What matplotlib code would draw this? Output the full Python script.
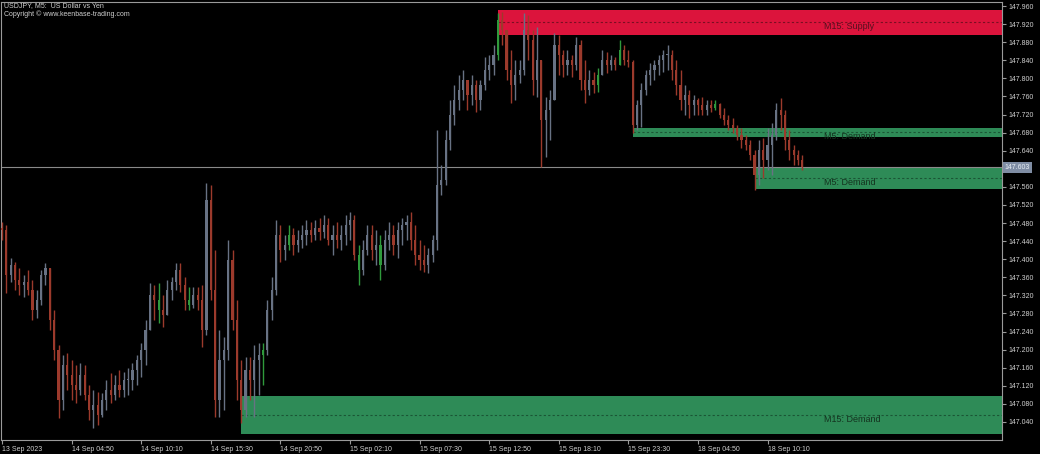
import matplotlib
matplotlib.use("Agg")
import matplotlib.pyplot as plt
import numpy as np

# ---------------- data (USDJPY M5, one candle = 20 min) ----------------
highs = [147.483,147.476,147.403,147.394,147.381,147.365,147.376,147.354,147.332,147.376,
         147.392,147.381,147.288,147.210,147.188,147.193,147.177,147.166,147.170,147.166,
         147.122,147.111,147.106,147.104,147.133,147.148,147.144,147.155,147.150,147.159,
         147.170,147.188,147.215,147.266,147.347,147.343,147.347,147.321,147.354,147.361,
         147.392,147.392,147.361,147.339,147.339,147.339,147.343,147.569,147.564,147.421,
         147.243,147.228,147.443,147.421,147.310,147.177,147.184,147.184,147.210,147.215,
         147.215,147.310,147.361,147.487,147.476,147.454,147.476,147.469,147.465,147.476,
         147.487,147.483,147.487,147.491,147.498,147.491,147.476,147.483,147.476,147.498,
         147.505,147.498,147.432,147.443,147.476,147.476,147.465,147.454,147.465,147.483,
         147.476,147.483,147.491,147.498,147.505,147.476,147.443,147.432,147.425,147.454,
         147.686,147.609,147.686,147.753,147.786,147.808,147.819,147.797,147.808,147.797,
         147.797,147.848,147.852,147.874,147.945,147.947,147.908,147.863,147.841,147.841,
         147.945,147.941,147.908,147.914,147.841,147.759,147.775,147.901,147.897,147.863,
         147.863,147.852,147.892,147.885,147.841,147.819,147.815,147.823,147.863,147.859,
         147.852,147.848,147.885,147.874,147.863,147.841,147.753,147.790,147.819,147.835,
         147.841,147.852,147.863,147.874,147.863,147.841,147.819,147.786,147.775,147.764,
         147.757,147.759,147.753,147.753,147.753,147.746,147.735,147.719,147.713,147.697,
         147.691,147.675,147.664,147.642,147.664,147.668,147.691,147.702,147.746,147.757,
         147.730,147.686,147.653,147.642,147.631]
lows = [147.443,147.325,147.350,147.332,147.321,147.316,147.321,147.266,147.270,147.299,
        147.343,147.243,147.177,147.049,147.066,147.111,147.088,147.082,147.099,147.088,
        147.044,147.026,147.033,147.051,147.066,147.082,147.088,147.095,147.095,147.099,
        147.111,147.122,147.139,147.166,147.243,147.266,147.259,147.250,147.299,147.310,
        147.332,147.327,147.288,147.288,147.292,147.288,147.206,147.232,147.310,147.051,
        147.051,147.066,147.177,147.243,147.088,147.038,147.051,147.088,147.051,147.099,
        147.122,147.188,147.266,147.321,147.394,147.398,147.421,147.409,147.416,147.425,
        147.432,147.438,147.443,147.443,147.447,147.432,147.409,147.425,147.421,147.432,
        147.443,147.398,147.343,147.365,147.409,147.398,147.387,147.354,147.376,147.421,
        147.409,147.403,147.432,147.443,147.421,147.387,147.376,147.372,147.370,147.394,
        147.421,147.542,147.564,147.642,147.697,147.730,147.753,147.730,147.741,147.726,
        147.730,147.775,147.797,147.808,147.841,147.874,147.797,147.746,147.753,147.790,
        147.808,147.841,147.764,147.759,147.604,147.626,147.664,147.753,147.808,147.804,
        147.808,147.804,147.819,147.775,147.746,147.764,147.768,147.770,147.808,147.812,
        147.819,147.819,147.830,147.830,147.826,147.680,147.686,147.693,147.764,147.786,
        147.797,147.808,147.815,147.819,147.797,147.764,147.730,147.719,147.713,147.719,
        147.719,147.719,147.719,147.726,147.730,147.713,147.697,147.686,147.680,147.664,
        147.646,147.642,147.620,147.553,147.564,147.580,147.598,147.587,147.664,147.686,
        147.642,147.620,147.609,147.609,147.598]
closes = [147.465,147.365,147.387,147.354,147.343,147.350,147.332,147.288,147.310,147.365,
          147.381,147.266,147.199,147.088,147.166,147.144,147.122,147.111,147.144,147.099,
          147.066,147.077,147.055,147.088,147.111,147.099,147.122,147.111,147.133,147.133,
          147.155,147.177,147.199,147.243,147.321,147.310,147.288,147.277,147.332,147.350,
          147.376,147.343,147.310,147.299,147.321,147.310,147.243,147.531,147.332,147.088,
          147.177,147.199,147.398,147.266,147.133,147.066,147.155,147.133,147.177,147.188,
          147.199,147.288,147.332,147.454,147.421,147.432,147.454,147.432,147.443,147.454,
          147.465,147.454,147.469,147.460,147.476,147.443,147.454,147.443,147.454,147.476,
          147.487,147.409,147.376,147.421,147.454,147.421,147.432,147.387,147.443,147.454,
          147.432,147.465,147.476,147.483,147.443,147.409,147.398,147.387,147.409,147.443,
          147.564,147.575,147.664,147.719,147.753,147.775,147.797,147.764,147.786,147.753,
          147.786,147.819,147.830,147.852,147.930,147.908,147.819,147.786,147.808,147.819,
          147.908,147.885,147.797,147.841,147.708,147.730,147.753,147.874,147.852,147.830,
          147.841,147.830,147.874,147.797,147.775,147.797,147.786,147.808,147.841,147.830,
          147.841,147.830,147.863,147.841,147.837,147.697,147.741,147.775,147.808,147.819,
          147.830,147.841,147.852,147.852,147.819,147.786,147.753,147.764,147.741,147.753,
          147.741,147.730,147.741,147.735,147.744,147.719,147.708,147.697,147.691,147.675,
          147.664,147.653,147.631,147.587,147.642,147.620,147.653,147.675,147.730,147.719,
          147.664,147.642,147.631,147.620,147.603]
first_open = 147.470
doji_idx = [36, 43, 60, 66, 82, 87, 114, 137, 142, 164]

tick_idx = [0, 16, 32, 48, 64, 80, 96, 112, 128, 144, 160, 176]
tick_labels = ["13 Sep 2023", "14 Sep 04:50", "14 Sep 10:10", "14 Sep 15:30",
               "14 Sep 20:50", "15 Sep 02:10", "15 Sep 07:30", "15 Sep 12:50",
               "15 Sep 18:10", "15 Sep 23:30", "18 Sep 04:50", "18 Sep 10:10"]

# zones: (label, start candle, top, bottom, kind)
zone_labels = ["M15: Supply", "M5: Demand", "M5: Demand", "M15: Demand"]
zone_start = [114, 145, 173, 55]
zone_top = [147.952, 147.690, 147.604, 147.097]
zone_bottom = [147.897, 147.671, 147.555, 147.013]
zone_kind = ["supply", "demand", "demand", "demand"]

bid = 147.603
price_ticks = [round(147.040 + 0.04 * k, 3) for k in range(24)]

# ---------------- drawing ----------------
BG = "#000000"
BULL = "#687284"
BEAR = "#9C3A2C"
DOJI = "#2F9A3C"
FG = "#D0D0D0"
FRAME = "#9A9A9A"

fig = plt.figure(figsize=(10.4, 4.54), dpi=100, facecolor=BG)
ax = fig.add_axes([1 / 1040, 14 / 454, 1001 / 1040, 438 / 454], facecolor=BG)

n = len(closes)
x = np.arange(n)
opens = np.array([first_open] + closes[:-1])
c = np.array(closes)
h = np.maximum(np.array(highs), np.maximum(opens, c))
l = np.minimum(np.array(lows), np.minimum(opens, c))

colors = []
for i in range(n):
    if i in doji_idx:
        colors.append(DOJI)
    elif c[i] >= opens[i]:
        colors.append(BULL)
    else:
        colors.append(BEAR)

ax.vlines(x, l, h, colors=colors, linewidth=1.0, zorder=3)
body_bot = np.minimum(opens, c)
body_h = np.maximum(np.abs(c - opens), 0.002)
ax.bar(x, body_h, bottom=body_bot, width=0.5, color=colors, linewidth=0, zorder=3)

xmax = 229.9
for lab, s, t, b, k in zip(zone_labels, zone_start, zone_top, zone_bottom, zone_kind):
    fc = "#DC143C" if k == "supply" else "#2E8B57"
    lc = "#7A0F22" if k == "supply" else "#1B5535"
    tc = "#55101F" if k == "supply" else "#14331F"
    ax.fill_between([s, xmax], b, t, color=fc, linewidth=0, zorder=1)
    mid = (t + b) / 2
    ax.plot([s, xmax], [mid, mid], color=lc, linewidth=0.8,
            linestyle=(0, (2, 2)), zorder=2)
    ax.text(189.0, mid - 0.010, lab, color=tc, fontsize=6.5,
            family="Liberation Sans", va="center", ha="left", zorder=2)

ax.axhline(bid, color="#8A8A8A", linewidth=0.8, zorder=2)

ax.set_xlim(-0.23, xmax)
ax.set_ylim(147.000, 147.969)

for sp in ax.spines.values():
    sp.set_color(FRAME)
    sp.set_linewidth(0.8)

ax.yaxis.tick_right()
yt = [p for p in price_ticks if abs(p - 147.600) > 1e-6]
ax.set_yticks(yt)
ax.set_yticklabels([f"{p:.3f}" for p in yt])
ax.set_xticks(tick_idx)
ax.set_xticklabels(tick_labels, ha="left")
ax.tick_params(axis="both", colors=FRAME, labelcolor=FG, length=3, width=0.8,
               labelsize=5, pad=1.5)
for t in ax.get_xticklabels() + ax.get_yticklabels():
    t.set_family("Liberation Sans")

ax.annotate(f"{bid:.3f}", xy=(1.0, bid), xycoords=("axes fraction", "data"),
            xytext=(2, 0), textcoords="offset points", va="center", ha="left",
            fontsize=5, family="Liberation Sans", color="#E8EEF4",
            bbox=dict(boxstyle="square,pad=0.25", fc="#7F8DA4", ec="none"),
            annotation_clip=False, zorder=5)

fig.text(4 / 1040, 1 - 6 / 454, "USDJPY, M5:  US Dollar vs Yen", color=FG,
         fontsize=5, family="Liberation Sans", va="center", ha="left")
fig.text(4 / 1040, 1 - 14 / 454, "Copyright \u00a9 www.keenbase-trading.com", color=FG,
         fontsize=5, family="Liberation Sans", va="center", ha="left")

fig.savefig("out.png", dpi=100, facecolor=BG)
